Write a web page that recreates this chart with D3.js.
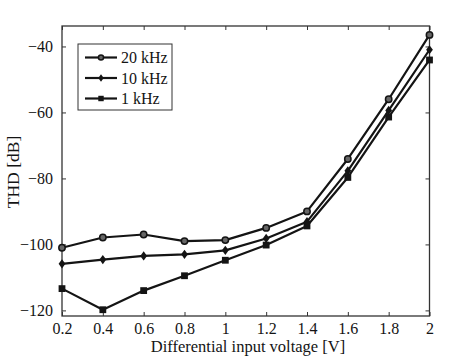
<!DOCTYPE html>
<html><head><meta charset="utf-8">
<script src="https://cdn.jsdelivr.net/npm/d3@7"></script>
<style>
html,body{margin:0;padding:0;background:#fff;}
svg{display:block;font-family:"Liberation Serif","Times New Roman",serif;}
</style></head>
<body><svg id="c" width="474" height="356"></svg>
<script>
const voltages = [0.2,0.4,0.6,0.8,1.0,1.2,1.4,1.6,1.8,2.0];
const thd20k = [-101.0,-97.9,-97.0,-99.0,-98.7,-95.0,-90.0,-74.1,-56.0,-36.5];
const thd10k = [-105.9,-104.6,-103.5,-103.0,-101.8,-98.2,-93.1,-77.7,-59.4,-41.0];
const thd1k  = [-113.4,-119.8,-114.0,-109.5,-104.8,-100.2,-94.4,-79.7,-61.4,-44.1];
const seriesNames = ["20 kHz","10 kHz","1 kHz"];
const xTicks = [0.2,0.4,0.6,0.8,1,1.2,1.4,1.6,1.8,2];
const yTicks = [-120,-100,-80,-60,-40];

const series = [
  {name:seriesNames[0], values:thd20k, marker:"circle"},
  {name:seriesNames[1], values:thd10k, marker:"diamond"},
  {name:seriesNames[2], values:thd1k,  marker:"square"}
];

const svg = d3.select("#c");
const L=62, R=429.5, T=26, B=316;
const x = d3.scaleLinear().domain([0.2,2]).range([L,R]);
const y = d3.scaleLinear().domain([-121.7,-33.8]).range([B,T]);
const ink = "#141414";

svg.append("rect").attr("x",L).attr("y",T).attr("width",R-L).attr("height",B-T)
  .attr("fill","none").attr("stroke","#333").attr("stroke-width",1.3);

const fmt = d => (d<0?"\u2212":"")+Math.abs(d);
const gx = svg.append("g").attr("transform",`translate(0,${B})`)
  .call(d3.axisBottom(x).tickValues(xTicks).tickSize(-4).tickPadding(6.5).tickFormat(d=>String(d)));
const gxt = svg.append("g").attr("transform",`translate(0,${T})`)
  .call(d3.axisTop(x).tickValues(xTicks).tickSize(-4).tickFormat(""));
const gy = svg.append("g").attr("transform",`translate(${L},0)`)
  .call(d3.axisLeft(y).tickValues(yTicks).tickSize(-4).tickPadding(9).tickFormat(fmt));
const gyr = svg.append("g").attr("transform",`translate(${R},0)`)
  .call(d3.axisRight(y).tickValues(yTicks).tickSize(-4).tickFormat(""));
[gx,gxt,gy,gyr].forEach(g=>{
  g.select(".domain").remove();
  g.selectAll(".tick line").attr("stroke","#333").attr("stroke-width",1);
  g.selectAll("text").attr("font-family","Liberation Serif, serif").attr("font-size",16).attr("fill",ink);
});

svg.append("text").attr("x",248).attr("y",352.3).attr("text-anchor","middle")
  .attr("font-size",16.5).attr("fill",ink).text("Differential input voltage [V]");
svg.append("text").attr("transform",`translate(19,172) rotate(-90)`).attr("text-anchor","middle")
  .attr("font-size",17.5).attr("fill",ink).text("THD [dB]");

function drawMarker(g, type, cx, cy, s){
  if(type==="circle"){
    g.append("circle").attr("cx",cx).attr("cy",cy).attr("r",3.2*s)
      .attr("fill","#666").attr("stroke",ink).attr("stroke-width",1.5);
  } else if(type==="diamond"){
    const a=4.6*s, b=3.4*s;
    g.append("path").attr("d",`M${cx},${cy-a}L${cx+b},${cy}L${cx},${cy+a}L${cx-b},${cy}Z`).attr("fill",ink);
  } else {
    const h=3.4*s;
    g.append("rect").attr("x",cx-h).attr("y",cy-h).attr("width",2*h).attr("height",2*h).attr("fill",ink);
  }
}

const line = d3.line().x((d,i)=>x(voltages[i])).y(d=>y(d));
series.forEach(s=>{
  svg.append("path").attr("d",line(s.values)).attr("fill","none")
    .attr("stroke",ink).attr("stroke-width",2.2).attr("stroke-linejoin","round");
  const g = svg.append("g");
  s.values.forEach((v,i)=>drawMarker(g,s.marker,x(voltages[i]),y(v),1));
});

const lg = svg.append("g");
lg.append("rect").attr("x",78).attr("y",44).attr("width",94).attr("height",66)
  .attr("fill","#fff").attr("stroke","#333").attr("stroke-width",1);
series.forEach((s,i)=>{
  const yy = 57.5 + i*20.5;
  lg.append("line").attr("x1",85).attr("x2",117).attr("y1",yy).attr("y2",yy)
    .attr("stroke",ink).attr("stroke-width",2.2);
  drawMarker(lg,s.marker,101,yy,0.8);
  lg.append("text").attr("x",121).attr("y",yy+5.5).attr("font-size",16).attr("fill",ink).text(s.name);
});
</script></body></html>
